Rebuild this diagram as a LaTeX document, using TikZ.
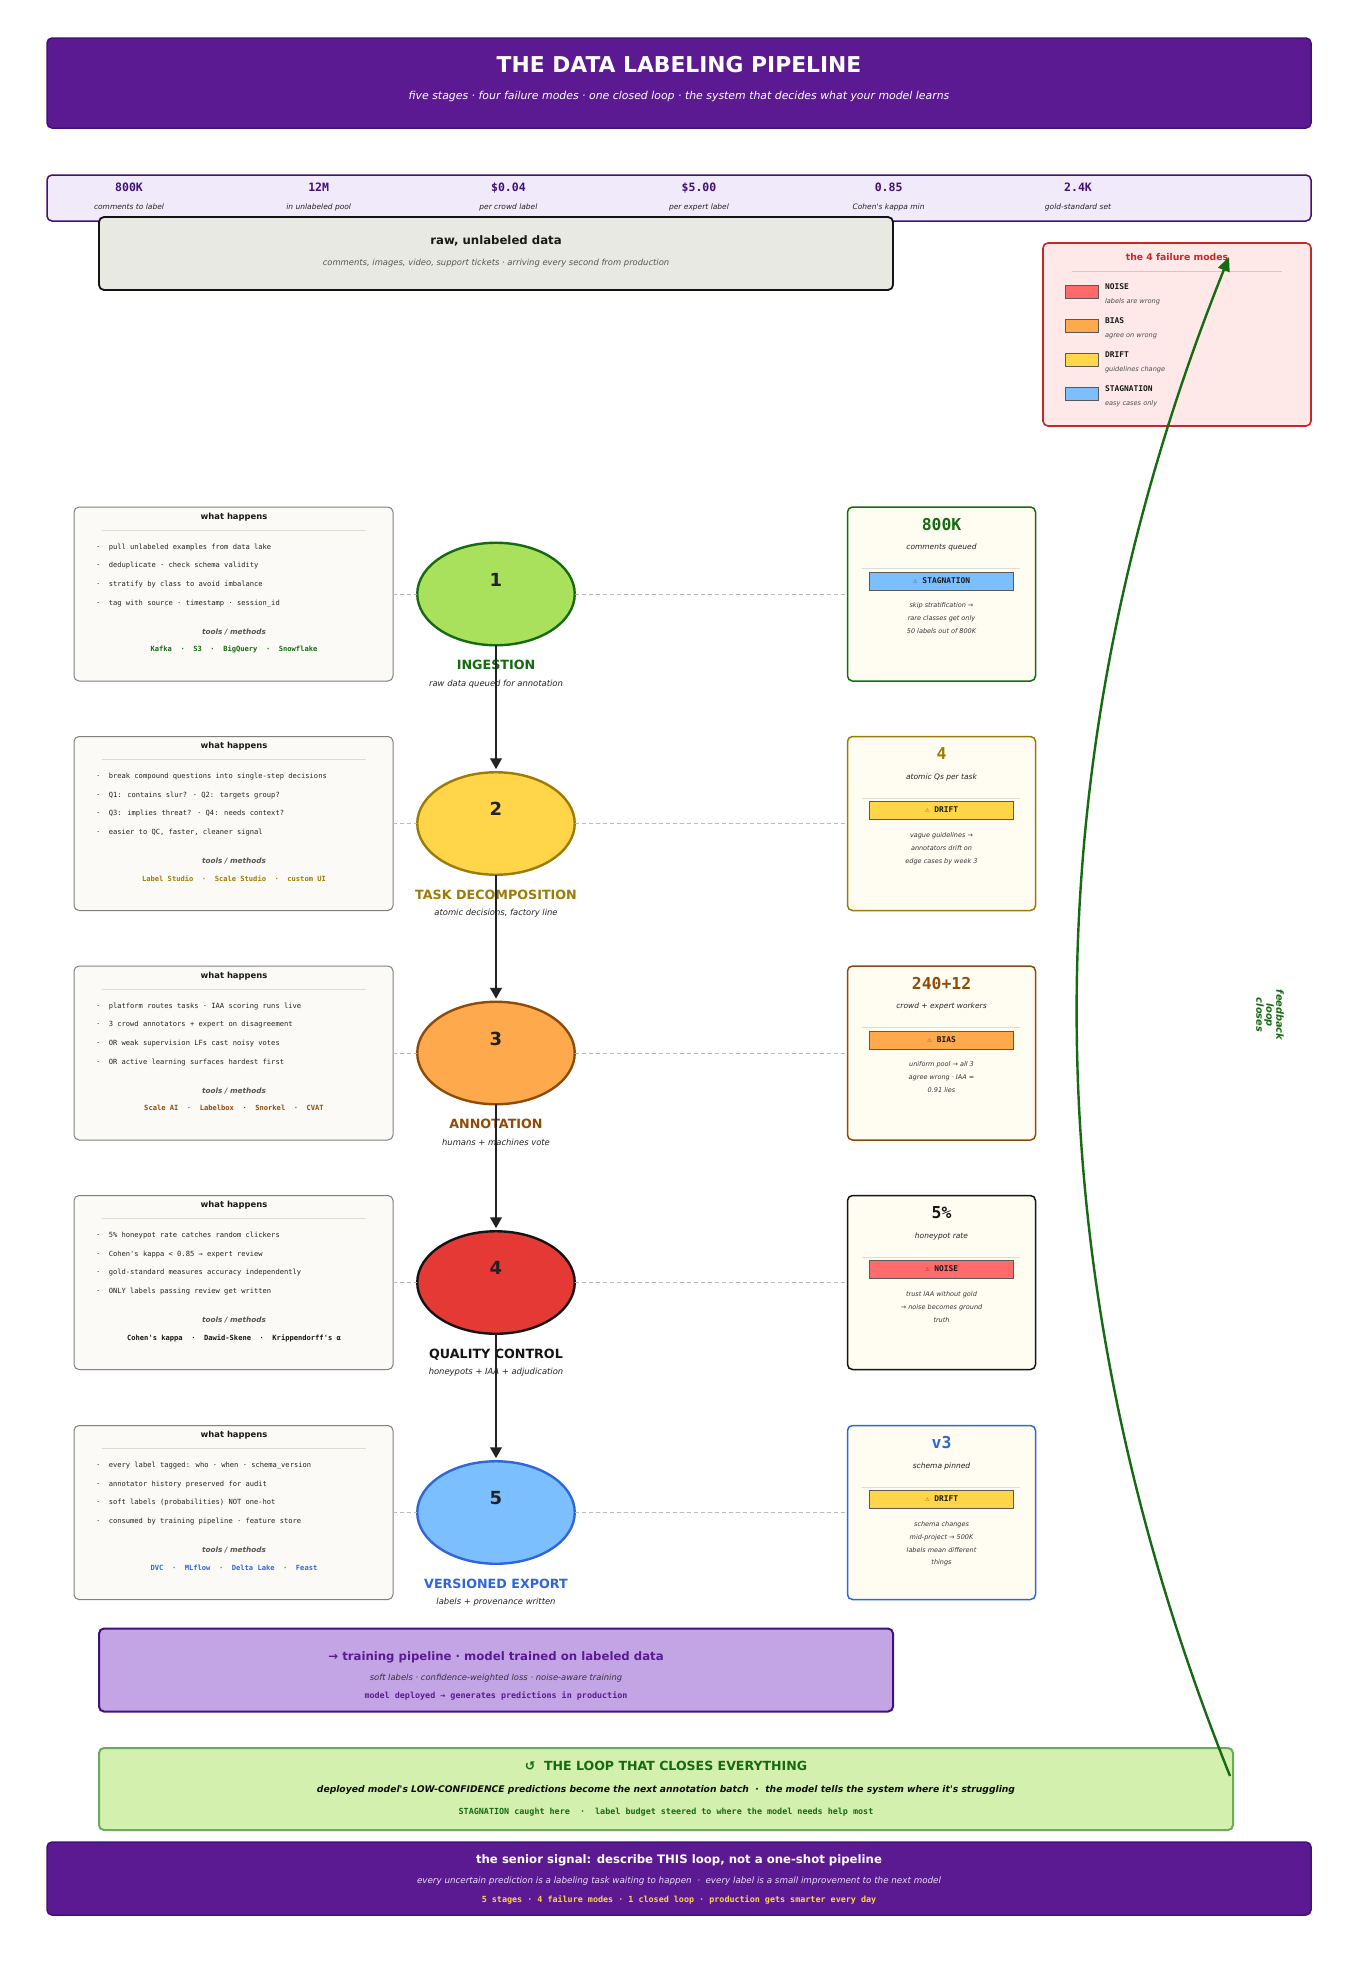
\documentclass[tikz,border=0pt]{standalone}
\usepackage{fontspec}
\usetikzlibrary{arrows.meta,shapes.geometric}
\newfontfamily\dsans{DejaVu Sans}
\newfontfamily\dmono{DejaVu Sans Mono}
\newcommand\sz[1]{\fontsize{#1}{#1}\selectfont}
\definecolor{deep}{HTML}{5C1A92}
\definecolor{deepedge}{HTML}{431078}
\definecolor{cgreen}{HTML}{156A12}
\definecolor{cgold}{HTML}{9C7C06}
\definecolor{cbrown}{HTML}{8F4C08}
\definecolor{cblack}{HTML}{141414}
\definecolor{cblue}{HTML}{2F67D8}
\definecolor{flime}{HTML}{A9E15D}
\definecolor{fyellow}{HTML}{FFD54A}
\definecolor{forange}{HTML}{FFA94D}
\definecolor{fred}{HTML}{E53935}
\definecolor{fblue}{HTML}{7BBFFF}
\definecolor{fnoise}{HTML}{FF6B6B}
\definecolor{inkdark}{HTML}{222222}
\definecolor{inkmid}{HTML}{333333}
\definecolor{inkgray}{HTML}{555555}
\definecolor{hair}{HTML}{DDDDD5}
\definecolor{cardl}{HTML}{FBFAF6}
\definecolor{cardr}{HTML}{FFFDF2}
\definecolor{barfill}{HTML}{F0EAFB}
\definecolor{footsub}{HTML}{EBE0F7}
\definecolor{alarm}{HTML}{C62828}
\tikzset{
  x=1pt,y=-1pt,
  txt/.style={inner sep=0,outer sep=0,anchor=mid},
  txtl/.style={inner sep=0,outer sep=0,anchor=mid west},
  band/.style={draw=deepedge,fill=deep,line width=1.5,rounded corners=5},
  statbar/.style={draw=deepedge,fill=barfill,line width=1.5,rounded corners=5},
  leftcard/.style={draw=black!50,fill=cardl,line width=1,rounded corners=5},
  rightcard/.style={fill=cardr,line width=1.5,rounded corners=5},
  stageoval/.style={ellipse,inner sep=0,outer sep=0,minimum width=157.5,minimum height=102.5,line width=2.4},
  hairline/.style={draw=hair,line width=0.9},
  guide/.style={draw=black!27,line width=0.8,dash pattern=on 4pt off 3pt},
  flow/.style={draw=inkdark,line width=2.6,-{Triangle[length=11,width=11.5]},shorten >=3},
  back/.style={draw=cgreen,line width=2.4,-{Triangle[length=14,width=12]}},
  swatch/.style={draw=black!65,line width=1,minimum width=33,minimum height=13.5,inner sep=0,outer sep=0},
  tagbox/.style={draw=black!65,line width=1,minimum width=144,minimum height=18,inner sep=0,outer sep=0},
  bullet/.style={txtl,font=\dmono\sz{7.1},text=inkdark},
  statval/.style={txt,font=\dmono\bfseries\sz{11.5},text=deepedge},
  statlab/.style={txt,font=\dsans\itshape\sz{7.5},text=inkdark},
  legname/.style={txtl,font=\dmono\bfseries\sz{7.9},text=black!90},
  legsub/.style={txtl,font=\dsans\itshape\sz{6.6},text=black!70},
}
\newcommand\leftside[7]{% id, y, b1..b4, colour
  \node[leftcard,minimum width=319,minimum height=174,inner sep=0,outer sep=0] (lc#1) at (233.5,#2) {};
  \node[txt,font=\dsans\bfseries\sz{8.4},text=black!90] (lt#1) at (234,#2-77) {what happens};
  \draw[hairline] (102,#2-64) -- (366,#2-64);
  \node[bullet] (la#1) at (96,#2-47) {·~ #3};
  \node[bullet] (lb#1) at (96,#2-28.5) {·~ #4};
  \node[bullet] (lx#1) at (96,#2-10) {·~ #5};
  \node[bullet] (ld#1) at (96,#2+9) {·~ #6};
  \node[txt,font=\dsans\bfseries\itshape\sz{7.3},text=inkgray] (lh#1) at (234,#2+38) {tools / methods};
  \node[txt,font=\dmono\bfseries\sz{7.1},text=#7] (lm#1) at (234,#2+55.5) {\lefttools};
}
\newcommand\stagecol[7]{% id,y,color,fill,num,name,sub
  \node[stageoval,draw=#3,fill=#4] (e#1) at (496,#2) {};
  \node[txt,font=\dsans\bfseries\sz{18},text=inkdark] (n#1) at (496,#2-10) {#5};
  \node[txt,font=\dsans\bfseries\sz{12.7},text=#3] (s#1) at (496,#2+73.5) {#6};
  \node[txt,font=\dsans\itshape\sz{8.4},text=inkdark] (u#1) at (496,#2+90) {#7};
}
\newcommand\rightside[8]{% id,y,color,big,sub,tagfill,tag,lines
  \node[rightcard,draw=#3,minimum width=188,minimum height=174,inner sep=0,outer sep=0] (rc#1) at (941.5,#2) {};
  \node[txt,font=\dmono\bfseries\sz{16.4},text=#3] (rb#1) at (941.5,#2-66) {#4};
  \node[txt,font=\dsans\itshape\sz{7.5},text=inkdark] (rs#1) at (941.5,#2-46.3) {#5};
  \draw[hairline] (862,#2-25.3) -- (1020,#2-25.3);
  \node[tagbox,fill=#6] (rt#1) at (941.5,#2-13) {};
  \node[txt,font=\dmono\bfseries\sz{7.9},text=black!90] (rw#1) at (941.5,#2-13) {\makebox[4.77pt]{\dsans\mdseries\sz{5.5}\textcolor{#6!55!black}{⚠}} #7};
  \node[inner sep=0,outer sep=0,anchor=north,align=center,font=\dsans\itshape\fontsize{6.5}{12.8}\selectfont,text=inkmid] (rd#1) at (941.5,#2+9) {#8};
}
\begin{document}
\begin{tikzpicture}
\useasboundingbox (0,0) rectangle (1358,1962);
\fill[white] (0,0) rectangle (1358,1962);

% header
\node[band,minimum width=1264,minimum height=90,inner sep=0,outer sep=0] (head) at (679,83) {};
\node[txt,font=\dsans\bfseries\sz{21.8},text=white] (headt) at (679,70) {THE DATA LABELING PIPELINE};
\node[txt,font=\dsans\itshape\sz{10.9},text=white] (heads) at (679,97) {five stages · four failure modes · one closed loop · the system that decides what your model learns};

% stats
\node[statbar,minimum width=1264,minimum height=46,inner sep=0,outer sep=0] (stats) at (679,198) {};
\node[statval] (v1) at (129,189.5) {800K};   \node[statlab] (w1) at (129,207) {comments to label};
\node[statval] (v2) at (318.7,189.5) {12M};  \node[statlab] (w2) at (318.7,207) {in unlabeled pool};
\node[statval] (v3) at (508.4,189.5) {\$0.04}; \node[statlab] (w3) at (508.4,207) {per crowd label};
\node[statval] (v4) at (699,189.5) {\$5.00}; \node[statlab] (w4) at (699,207) {per expert label};
\node[statval] (v5) at (888.6,189.5) {0.85}; \node[statlab] (w5) at (888.6,207) {Cohen's kappa min};
\node[statval] (v6) at (1078,189.5) {2.4K};  \node[statlab] (w6) at (1078,207) {gold-standard set};

% raw data
\node[draw=cblack,fill={rgb,255:red,232;green,233;blue,227},line width=1.8,rounded corners=5,minimum width=794,minimum height=73,inner sep=0,outer sep=0] (raw) at (496,253.5) {};
\node[txt,font=\dsans\bfseries\sz{11.7},text=black!90] (rawt) at (496,242.5) {raw, unlabeled data};
\node[txt,font=\dsans\itshape\sz{8.4},text=inkgray] (raws) at (496,263) {comments, images, video, support tickets · arriving every second from production};

% failure legend
\node[draw=alarm,fill={rgb,255:red,255;green,232;blue,232},line width=1.6,rounded corners=5,minimum width=268,minimum height=183,inner sep=0,outer sep=0] (panel) at (1177,334.5) {};
\node[txt,font=\dsans\bfseries\sz{9.3},text=alarm] (panelt) at (1177,258) {the 4 failure modes};
\draw[draw=black!20,line width=0.9] (1072,271) -- (1282,271);
\node[swatch,fill=fnoise] (f1) at (1082,292) {};
\node[legname] (fa1) at (1105,287.5) {NOISE}; \node[legsub] (fb1) at (1105,301.5) {labels are wrong};
\node[swatch,fill=forange] (f2) at (1082,326) {};
\node[legname] (fa2) at (1105,321.5) {BIAS}; \node[legsub] (fb2) at (1105,335) {agree on wrong};
\node[swatch,fill=fyellow] (f3) at (1082,360) {};
\node[legname] (fa3) at (1105,355) {DRIFT}; \node[legsub] (fb3) at (1105,369) {guidelines change};
\node[swatch,fill=fblue] (f4) at (1082,394) {};
\node[legname] (fa4) at (1105,389) {STAGNATION}; \node[legsub] (fb4) at (1105,403) {easy cases only};

% rows
\def\lefttools{Kafka~ ·~ S3~ ·~ BigQuery~ ·~ Snowflake}
\leftside{1}{594}{pull unlabeled examples from data lake}{deduplicate · check schema validity}{stratify by class to avoid imbalance}{tag with source · timestamp · session\_id}{cgreen}
\def\lefttools{Label Studio~ ·~ Scale Studio~ ·~ custom UI}
\leftside{2}{823.5}{break compound questions into single-step decisions}{Q1: contains slur? · Q2: targets group?}{Q3: implies threat? · Q4: needs context?}{easier to QC, faster, cleaner signal}{cgold}
\def\lefttools{Scale AI~ ·~ Labelbox~ ·~ Snorkel~ ·~ CVAT}
\leftside{3}{1053}{platform routes tasks · IAA scoring runs live}{3 crowd annotators + expert on disagreement}{OR weak supervision LFs cast noisy votes}{OR active learning surfaces hardest first}{cbrown}
\def\lefttools{Cohen's kappa~ ·~ Dawid-Skene~ ·~ Krippendorff's α}
\leftside{4}{1282.5}{5\% honeypot rate catches random clickers}{Cohen's kappa < 0.85 → expert review}{gold-standard measures accuracy independently}{ONLY labels passing review get written}{cblack}
\def\lefttools{DVC~ ·~ MLflow~ ·~ Delta Lake~ ·~ Feast}
\leftside{5}{1512.5}{every label tagged: who · when · schema\_version}{annotator history preserved for audit}{soft labels (probabilities) NOT one-hot}{consumed by training pipeline · feature store}{cblue}

\stagecol{1}{594}{cgreen}{flime}{1}{INGESTION}{raw data queued for annotation}
\stagecol{2}{823.5}{cgold}{fyellow}{2}{TASK DECOMPOSITION}{atomic decisions, factory line}
\stagecol{3}{1053}{cbrown}{forange}{3}{ANNOTATION}{humans + machines vote}
\stagecol{4}{1282.5}{cblack}{fred}{4}{QUALITY CONTROL}{honeypots + IAA + adjudication}
\stagecol{5}{1512.5}{cblue}{fblue}{5}{VERSIONED EXPORT}{labels + provenance written}

\rightside{1}{594}{cgreen}{800K}{comments queued}{fblue}{STAGNATION}{skip stratification →\\rare classes get only\\50 labels out of 800K}
\rightside{2}{823.5}{cgold}{4}{atomic Qs per task}{fyellow}{DRIFT}{vague guidelines →\\annotators drift on\\edge cases by week 3}
\rightside{3}{1053}{cbrown}{240+12}{crowd + expert workers}{forange}{BIAS}{uniform pool → all 3\\agree wrong · IAA =\\0.91 lies}
\rightside{4}{1282.5}{cblack}{5\%}{honeypot rate}{fnoise}{NOISE}{trust IAA without gold\\→ noise becomes ground\\truth}
\rightside{5}{1512.5}{cblue}{v3}{schema pinned}{fyellow}{DRIFT}{schema changes\\mid-project → 500K\\labels mean different\\things}

% dashed guides
\foreach \r in {1,...,5}{
  \draw[guide] (lc\r.east) -- (e\r.west);
  \draw[guide] (e\r.east) -- (rc\r.west);
}

% stage flow
\draw[flow] (e1.south) -- (e2.north);
\draw[flow] (e2.south) -- (e3.north);
\draw[flow] (e3.south) -- (e4.north);
\draw[flow] (e4.south) -- (e5.north);

% training
\node[draw=deepedge,fill={rgb,255:red,195;green,165;blue,230},line width=2,rounded corners=5,minimum width=794,minimum height=83,inner sep=0,outer sep=0] (train) at (496,1670) {};
\node[txt,font=\dsans\bfseries\sz{11.7},text=deep] (traina) at (496,1658) {→ training pipeline · model trained on labeled data};
\node[txt,font=\dsans\itshape\sz{8.4},text=inkmid] (trainb) at (496,1678) {soft labels · confidence-weighted loss · noise-aware training};
\node[txt,font=\dmono\bfseries\sz{8.4},text=deep] (trainc) at (496,1696) {model deployed → generates predictions in production};

% loop box
\node[draw={rgb,255:red,106;green,171;blue,92},fill={rgb,255:red,212;green,240;blue,174},line width=2,rounded corners=5,minimum width=1134,minimum height=82,inner sep=0,outer sep=0] (loop) at (666,1789) {};
\node[txt,font=\dsans\bfseries\sz{12.55},text=cgreen] (loopa) at (666,1768.5) {↺~ THE LOOP THAT CLOSES EVERYTHING};
\node[txt,font=\dsans\bfseries\itshape\sz{9.2},text=black!95] (loopb) at (666,1790) {deployed model's LOW-CONFIDENCE predictions become the next annotation batch~ ·~ the model tells the system where it's struggling};
\node[txt,font=\dmono\bfseries\sz{8.4},text=cgreen] (loopc) at (666,1812) {STAGNATION caught here~ ·~ label budget steered to where the model needs help most};

% bottom
\node[band,minimum width=1264,minimum height=73,inner sep=0,outer sep=0] (foot) at (679,1878.5) {};
\node[txt,font=\dsans\bfseries\sz{11.7},text=white] (foota) at (679,1861.5) {the senior signal: describe THIS loop, not a one-shot pipeline};
\node[txt,font=\dsans\itshape\sz{8.75},text=footsub] (footb) at (679,1881.5) {every uncertain prediction is a labeling task waiting to happen~ ·~ every label is a small improvement to the next model};
\node[txt,font=\dmono\bfseries\sz{8.4},text=fyellow] (footc) at (679,1900) {5 stages · 4 failure modes · 1 closed loop · production gets smarter every day};

% feedback
\coordinate (loopstart) at (1230,1776);
\coordinate (looptip) at (1229,257);
\draw[back] (loopstart) .. controls (1027,1269) and (1026,763) .. (looptip);
\node[inner sep=0,outer sep=0,anchor=center,rotate=-90,align=center,font=\dsans\bfseries\itshape\fontsize{9.8}{10}\selectfont,text=cgreen] (fb) at (1270,1015) {feedback\\loop\\closes};
\end{tikzpicture}
\end{document}
